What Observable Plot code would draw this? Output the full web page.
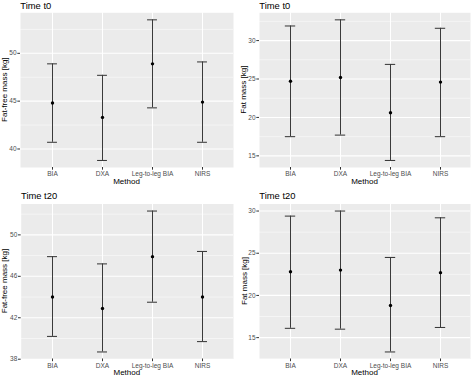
<!DOCTYPE html>
<html>
<head>
<meta charset="utf-8">
<script src="https://cdn.jsdelivr.net/npm/d3@7"></script>
<script src="https://cdn.jsdelivr.net/npm/@observablehq/plot@0.6"></script>
<style>
  html, body { margin: 0; padding: 0; background: #fff; }
  #root { position: relative; width: 474px; height: 376px; overflow: hidden; background: #fff;
          font-family: "Liberation Sans", Arial, Helvetica, sans-serif; }
  .panel { position: absolute; }
  #overlay { position: absolute; left: 0; top: 0; pointer-events: none; }
</style>
</head>
<body>
<div id="root"></div>
<script>
// ---------- data ----------
const methods = ["BIA", "DXA", "Leg-to-leg BIA", "NIRS"];

const ffmT0Mean = [44.8, 43.3, 48.9, 44.9];
const ffmT0Lo   = [40.7, 38.8, 44.3, 40.7];
const ffmT0Hi   = [48.9, 47.7, 53.5, 49.1];

const fmT0Mean = [24.7, 25.2, 20.6, 24.6];
const fmT0Lo   = [17.5, 17.7, 14.4, 17.5];
const fmT0Hi   = [31.9, 32.7, 26.9, 31.6];

const ffmT20Mean = [44.0, 42.9, 47.9, 44.0];
const ffmT20Lo   = [40.2, 38.7, 43.5, 39.7];
const ffmT20Hi   = [47.9, 47.2, 52.3, 48.4];

const fmT20Mean = [22.8, 23.0, 18.8, 22.7];
const fmT20Lo   = [16.1, 16.0, 13.3, 16.2];
const fmT20Hi   = [29.4, 30.0, 24.5, 29.2];

const ffmT0Ticks  = [40, 45, 50];
const fmT0Ticks   = [15, 20, 25, 30];
const ffmT20Ticks = [38, 42, 46, 50];
const fmT20Ticks  = [15, 20, 25, 30];

const titles = ["Time t0", "Time t0", "Time t20", "Time t20"];
const yLabels = ["Fat-free mass [kg]", "Fat mass [kg]", "Fat-free mass [kg]", "Fat mass [kg]"];
const xLabel = "Method";

// ---------- build ----------
const rows = (mean, lo, hi) => methods.map((m, i) => ({method: m, mean: mean[i], lo: lo[i], hi: hi[i]}));

const panels = [
  {data: rows(ffmT0Mean, ffmT0Lo, ffmT0Hi), ticks: ffmT0Ticks,
   left: 0, top: 0, ml: 20, mr: 4, mt: 12.3, mb: 21, ylx: 4.5},
  {data: rows(fmT0Mean, fmT0Lo, fmT0Hi), ticks: fmT0Ticks,
   left: 237, top: 0, ml: 22, mr: 4, mt: 12.3, mb: 21, ylx: 243.5},
  {data: rows(ffmT20Mean, ffmT20Lo, ffmT20Hi), ticks: ffmT20Ticks,
   left: 0, top: 188, ml: 20.7, mr: 4, mt: 15.5, mb: 17.5, ylx: 4.5},
  {data: rows(fmT20Mean, fmT20Lo, fmT20Hi), ticks: fmT20Ticks,
   left: 237, top: 188, ml: 22, mr: 4, mt: 15.5, mb: 17.5, ylx: 244}
];

const root = document.getElementById("root");
const W = 237, H = 188;
const FONT = '"Liberation Sans", Arial, Helvetica, sans-serif';
const CAP = 10.6; // error bar cap width in px

panels.forEach((p, k) => {
  const lo = d3.min(p.data, d => d.lo), hi = d3.max(p.data, d => d.hi);
  const pad = (hi - lo) * 0.05;
  const domain = [lo - pad, hi + pad];
  const step = p.ticks[1] - p.ticks[0];
  const minor = [p.ticks[0] - step / 2, ...p.ticks.map(t => t + step / 2)]
    .filter(v => v > domain[0] && v < domain[1]);
  const bw = (W - p.ml - p.mr) / (methods.length + 0.2);
  const inset = (bw - CAP) / 2;

  const chart = Plot.plot({
    width: W, height: H,
    marginLeft: p.ml, marginRight: p.mr, marginTop: p.mt, marginBottom: p.mb,
    style: {fontFamily: FONT, background: "transparent", overflow: "visible"},
    x: {type: "band", domain: methods, paddingInner: 0, paddingOuter: 0.1, label: null},
    y: {domain, label: null},
    marks: [
      Plot.frame({fill: "#EBEBEB", stroke: null}),
      Plot.ruleY(minor, {stroke: "#fff", strokeWidth: 0.5}),
      Plot.ruleY(p.ticks, {stroke: "#fff", strokeWidth: 1.1}),
      Plot.ruleX(methods, {x: d => d, stroke: "#fff", strokeWidth: 1.1}),
      Plot.axisY(p.ticks, {tickSize: 2.7, tickPadding: 1.2, fontSize: 6.5, fill: "#4D4D4D", stroke: "#333", label: null}),
      Plot.axisX({tickSize: 2.7, tickPadding: 1.2, fontSize: 6.5, fill: "#4D4D4D", stroke: "#333", label: null}),
      Plot.ruleX(p.data, {x: "method", y1: "lo", y2: "hi", stroke: "#3a3a3a", strokeWidth: 1.05}),
      Plot.tickY(p.data, {x: "method", y: "lo", insetLeft: inset, insetRight: inset, stroke: "#3a3a3a", strokeWidth: 1.05}),
      Plot.tickY(p.data, {x: "method", y: "hi", insetLeft: inset, insetRight: inset, stroke: "#3a3a3a", strokeWidth: 1.05}),
      Plot.dot(p.data, {x: "method", y: "mean", r: 1.7, fill: "#000", stroke: null})
    ]
  });
  const div = document.createElement("div");
  div.className = "panel";
  div.style.left = p.left + "px";
  div.style.top = p.top + "px";
  div.appendChild(chart);
  root.appendChild(div);
});

// ---------- titles / axis titles overlay ----------
const ov = d3.select(root).append("svg").attr("id", "overlay")
  .attr("width", 474).attr("height", 376)
  .style("font-family", FONT);

panels.forEach((p, k) => {
  const x0 = p.left + p.ml, x1 = p.left + W - p.mr;
  const y0 = p.top + p.mt, y1 = p.top + H - p.mb;
  ov.append("text").attr("x", x0 + 0.3).attr("y", p.top + (k < 2 ? 9.2 : 11.3))
    .attr("font-size", 9.4).attr("fill", "#000").text(titles[k]);
  ov.append("text").attr("x", (x0 + x1) / 2).attr("y", p.top + (k < 2 ? 184.2 : 187.2))
    .attr("text-anchor", "middle").attr("font-size", 8).attr("fill", "#000").text(xLabel);
  ov.append("text")
    .attr("transform", `translate(${p.ylx},${(y0 + y1) / 2}) rotate(-90)`)
    .attr("text-anchor", "middle").attr("dy", "0.35em")
    .attr("font-size", 8).attr("fill", "#000").text(yLabels[k]);
});
</script>
</body>
</html>
